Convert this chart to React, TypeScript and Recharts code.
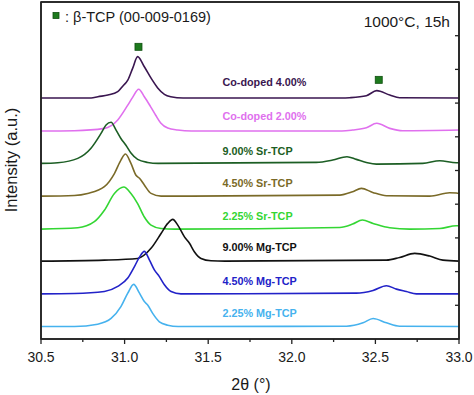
import React from "react";
import { ComposedChart, Line, Scatter, XAxis, YAxis, ReferenceDot } from "recharts";

const FONT = "Arial, 'Liberation Sans', sans-serif";
const INK = "#1a1a1a";

// ── axis ticks ──────────────────────────────────────────────────────────────
const X_DOMAIN = [30.5, 33];
const Y_DOMAIN = [0, 10];
const X_TICKS = [30.5, 30.75, 31.0, 31.25, 31.5, 31.75, 32.0, 32.25, 32.5, 32.75, 33.0];
const Y_TICKS = [1, 2, 3, 4, 5, 6, 7, 8, 9];

// ── series meta (top to bottom) ─────────────────────────────────────────────
const NAMES = [
  "Co-doped 4.00%", "Co-doped 2.00%", "9.00% Sr-TCP", "4.50% Sr-TCP",
  "2.25% Sr-TCP", "9.00% Mg-TCP", "4.50% Mg-TCP", "2.25% Mg-TCP",
];
const COLORS = ["#3a1650", "#e070ee", "#1c5e24", "#7a6a28", "#33d633", "#111111", "#2222c8", "#46b2ee"];
const OFFSETS = [7.15, 6.17, 5.21, 4.24, 3.26, 2.31, 1.34, 0.37];
const LABEL_X = 31.585;
const LABEL_Y = [7.64, 6.62, 5.59, 4.64, 3.65, 2.73, 1.73, 0.78];

// β-TCP reference peaks (2θ, height)
const PEAK_MARKS = [
  { t: 31.083, v: 8.67 },
  { t: 32.52, v: 7.69 },
];

// ── patterns: [2θ, intensity above own baseline] ────────────────────────────
const CO_400: [number, number][] = [
  [30.5, 0], [30.8, 0], [30.84, 0.04], [30.9, 0.09], [30.959, 0.19], [30.99, 0.36],
  [31.019, 0.53], [31.048, 0.88], [31.078, 1.23], [31.118, 0.93], [31.162, 0.56],
  [31.198, 0.3], [31.238, 0.11], [31.276, 0.04], [31.35, 0], [32.3, 0], [32.346, 0.01],
  [32.446, 0.07], [32.508, 0.22], [32.586, 0.09], [32.645, 0.01], [33.0, 0],
];
const CO_200: [number, number][] = [
  [30.5, 0], [30.7, 0.01], [30.879, 0.08], [30.959, 0.33], [31.019, 0.77], [31.048, 1.0],
  [31.084, 1.24], [31.118, 1.02], [31.156, 0.72], [31.186, 0.47], [31.216, 0.24],
  [31.258, 0.09], [31.318, 0.03], [31.4, 0], [32.3, 0], [32.364, 0.03], [32.446, 0.1],
  [32.508, 0.23], [32.586, 0.08], [32.663, 0.01], [33.0, 0.03],
];
const SR_900: [number, number][] = [
  [30.5, 0], [30.6, 0.02], [30.72, 0.15], [30.799, 0.45], [30.859, 0.89], [30.889, 1.14],
  [30.919, 1.22], [30.949, 0.99], [30.978, 0.74], [31.008, 0.54], [31.038, 0.31],
  [31.078, 0.12], [31.138, 0.03], [31.2, 0], [32.147, 0.03], [32.245, 0.1], [32.33, 0.2],
  [32.386, 0.12], [32.446, 0.03], [32.506, -0.02], [32.783, 0], [32.885, 0.08], [32.984, 0.02],
  [33.0, 0.02],
];
const SR_450: [number, number][] = [
  [30.5, 0], [30.7, 0.02], [30.779, 0.08], [30.879, 0.28], [30.939, 0.67], [30.978, 1.07],
  [31.005, 1.25], [31.038, 0.97], [31.068, 0.62], [31.089, 0.53], [31.118, 0.33],
  [31.158, 0.08], [31.218, 0], [32.287, 0.03], [32.364, 0.13], [32.416, 0.23], [32.484, 0.11],
  [32.566, 0.01], [32.825, 0], [32.944, 0.1], [32.984, 0.09], [33.0, 0.08],
];
const SR_225: [number, number][] = [
  [30.5, 0], [30.72, 0.04], [30.819, 0.22], [30.879, 0.56], [30.939, 1.06], [30.995, 1.25],
  [31.038, 1.06], [31.078, 0.76], [31.118, 0.36], [31.158, 0.12], [31.218, 0.02], [31.3, 0],
  [32.287, 0.05], [32.364, 0.15], [32.422, 0.27], [32.486, 0.17], [32.586, 0.04], [32.705, 0],
  [32.885, 0.02], [32.984, 0.1], [33.0, 0.1],
];
const MG_900: [number, number][] = [
  [30.5, 0], [30.879, 0.03], [31.078, 0.08], [31.158, 0.38], [31.218, 0.82], [31.258, 1.12],
  [31.288, 1.24], [31.318, 1.07], [31.358, 0.72], [31.388, 0.53], [31.417, 0.28],
  [31.457, 0.08], [31.517, 0.01], [31.6, 0], [32.566, 0.03], [32.645, 0.11], [32.735, 0.23],
  [32.825, 0.15], [32.904, 0.03], [33.0, 0],
];
const MG_450: [number, number][] = [
  [30.5, 0], [30.7, 0.01], [30.879, 0.07], [30.959, 0.22], [31.019, 0.47], [31.059, 0.81],
  [31.089, 1.09], [31.118, 1.26], [31.148, 1.01], [31.178, 0.71], [31.208, 0.51],
  [31.238, 0.27], [31.278, 0.07], [31.337, 0], [32.386, 0.02], [32.486, 0.1], [32.566, 0.24],
  [32.626, 0.14], [32.685, 0.07], [32.745, 0], [33.0, 0],
];
const MG_225: [number, number][] = [
  [30.5, 0], [30.7, 0], [30.839, 0.07], [30.919, 0.24], [30.978, 0.59], [31.019, 0.99],
  [31.054, 1.25], [31.089, 0.99], [31.118, 0.74], [31.138, 0.64], [31.168, 0.39],
  [31.208, 0.14], [31.258, 0.04], [31.32, 0], [32.327, 0.01], [32.426, 0.11], [32.486, 0.24],
  [32.566, 0.11], [32.645, 0.01], [33.0, 0],
];

const PATTERNS = [CO_400, CO_200, SR_900, SR_450, SR_225, MG_900, MG_450, MG_225];

const seriesData = PATTERNS.map((pts, i) =>
  pts.map(([t, v]) => ({ t, v: OFFSETS[i] + v }))
);

// ── custom ticks ────────────────────────────────────────────────────────────
const BottomTick = (props: any) => {
  const { x, y, payload } = props;
  const v = payload.value as number;
  const major = Math.abs(v * 2 - Math.round(v * 2)) < 1e-6;
  return (
    <g>
      <line x1={x} x2={x} y1={y} y2={y + (major ? 5 : 3)} stroke="#222" strokeWidth={1.3} />
      {major && (
        <text x={x} y={y + 23} textAnchor="middle" fontSize={14} fill={INK} fontFamily={FONT}>
          {v.toFixed(1)}
        </text>
      )}
    </g>
  );
};

const RightTick = (props: any) => {
  const { x, y } = props;
  return <line x1={x - 4} x2={x} y1={y} y2={y} stroke="#222" strokeWidth={1.3} />;
};

const seriesLabel = (i: number) => (p: any) => {
  const vb = p.viewBox || {};
  return (
    <text x={vb.x} y={vb.y + 4} fontSize={10.8} fontWeight={700} fill={COLORS[i]} fontFamily={FONT}>
      {NAMES[i]}
    </text>
  );
};

const PeakSquare = (p: any) => (
  <rect x={p.cx - 3.5} y={p.cy - 3.5} width={7} height={7} fill="#1d7a1d" stroke="#0f4f0f" strokeWidth={0.8} />
);

const AXIS = { stroke: "#222", strokeWidth: 1.5 };

export default function App() {
  return (
    <div style={{ position: "absolute", left: 0, top: 0, width: 474, height: 395, background: "#fff" }}>
      <ComposedChart width={474} height={395} margin={{ top: 0, right: 0, bottom: 0, left: 0 }}>
        <XAxis
          dataKey="t"
          type="number"
          domain={X_DOMAIN}
          ticks={X_TICKS}
          interval={0}
          allowDataOverflow
          height={56}
          tickSize={0}
          tickMargin={0}
          tickLine={false}
          axisLine={AXIS}
          tick={<BottomTick />}
        />
        <YAxis type="number" domain={Y_DOMAIN} width={41} tick={false} tickLine={false} axisLine={AXIS} allowDataOverflow />
        <XAxis
          xAxisId="top"
          dataKey="t"
          orientation="top"
          type="number"
          domain={X_DOMAIN}
          allowDataOverflow
          height={2}
          tick={false}
          tickLine={false}
          axisLine={AXIS}
        />
        <YAxis
          yAxisId="r"
          orientation="right"
          type="number"
          domain={Y_DOMAIN}
          allowDataOverflow
          ticks={Y_TICKS}
          interval={0}
          width={15}
          tickSize={0}
          tickMargin={0}
          tickLine={false}
          axisLine={AXIS}
          tick={<RightTick />}
        />
        {seriesData.map((d, i) => (
          <Line
            key={NAMES[i]}
            data={d}
            dataKey="v"
            type="monotone"
            stroke={COLORS[i]}
            strokeWidth={1.6}
            dot={false}
            activeDot={false}
            isAnimationActive={false}
          />
        ))}
        <Scatter
          data={PEAK_MARKS}
          dataKey="v"
          xAxisId="top"
          yAxisId="r"
          shape={<PeakSquare />}
          isAnimationActive={false}
        />
        {NAMES.map((n, i) => (
          <ReferenceDot
            key={"lbl" + n}
            x={LABEL_X}
            y={LABEL_Y[i]}
            r={0}
            fill="none"
            stroke="none"
            label={seriesLabel(i)}
          />
        ))}
      </ComposedChart>
      <svg
        width={474}
        height={395}
        style={{ position: "absolute", left: 0, top: 0, pointerEvents: "none" }}
        fontFamily={FONT}
      >
        {/* plot frame (matches the chart margins: 41 / 2 / 459 / 339) */}
        <rect x={41} y={2} width={418} height={337} fill="none" stroke="#222" strokeWidth={1.6} />
        <rect x={53} y={12.5} width={6} height={6} fill="#1d7a1d" stroke="#0f4f0f" strokeWidth={0.8} />
        <text x={65} y={22} fontSize={14.5} fill={INK}>: β-TCP (00-009-0169)</text>
        <text x={450} y={27} fontSize={15.5} fill={INK} textAnchor="end">1000°C, 15h</text>
        <text x={17} y={160} fontSize={16.5} fill={INK} textAnchor="middle" transform="rotate(-90 17 160)">
          Intensity (a.u.)
        </text>
        <text x={251} y={390} fontSize={16} fill={INK} textAnchor="middle">2θ (°)</text>
      </svg>
    </div>
  );
}
